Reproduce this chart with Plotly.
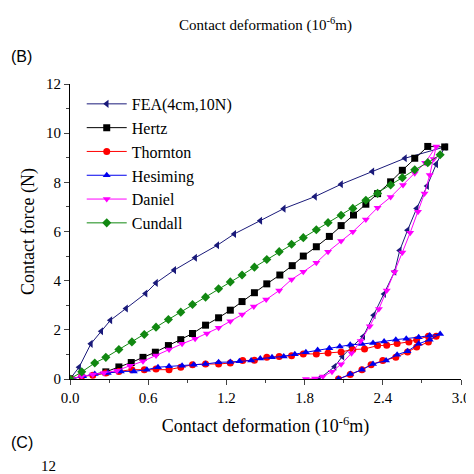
import plotly.graph_objects as go

fea_x = [0, 0.07, 0.16, 0.24, 0.31, 0.43, 0.58, 0.66, 0.80, 0.96, 1.13, 1.26, 1.46, 1.64, 1.88, 2.08, 2.32, 2.57, 2.875,
         2.81, 2.74, 2.66, 2.59, 2.53, 2.49, 2.41, 2.33, 2.25, 2.16, 2.09, 2.03, 1.91]
fea_y = [0, 0.48, 1.43, 1.94, 2.39, 2.87, 3.48, 3.91, 4.43, 4.93, 5.44, 5.90, 6.44, 6.93, 7.42, 7.92, 8.44, 8.98, 9.44,
         8.74, 7.85, 6.94, 6.05, 5.23, 4.36, 3.46, 2.59, 1.73, 1.30, 0.92, 0.50, 0]

hertz_x = [0, 0.275, 0.375, 0.47, 0.56, 0.655, 0.755, 0.85, 0.94, 1.04, 1.14, 1.23, 1.32, 1.415, 1.51, 1.61, 1.705,
           1.79, 1.89, 1.99, 2.08, 2.175, 2.27, 2.36, 2.46, 2.55, 2.645, 2.745, 2.875]
hertz_y = [0, 0.29, 0.49, 0.67, 0.88, 1.09, 1.36, 1.60, 1.85, 2.19, 2.49, 2.80, 3.15, 3.51, 3.87, 4.23, 4.61,
           5.00, 5.38, 5.80, 6.24, 6.67, 7.11, 7.54, 8.02, 8.49, 8.98, 9.46, 9.44]

thornton_x = [0, 0.09, 0.175, 0.275, 0.375, 0.475, 0.57, 0.66, 0.76, 0.85, 0.94, 1.04, 1.14, 1.23, 1.325, 1.415,
              1.51, 1.605, 1.70, 1.79, 1.89, 1.98, 2.08, 2.17, 2.26, 2.36, 2.43, 2.51, 2.60, 2.66, 2.75, 2.81,
              2.75, 2.66, 2.59, 2.50, 2.40, 2.31, 2.24, 2.15, 2.06]
thornton_y = [0, 0.11, 0.15, 0.24, 0.31, 0.38, 0.38, 0.41, 0.38, 0.48, 0.58, 0.61, 0.61, 0.65, 0.75, 0.76,
              0.88, 0.92, 0.95, 1.02, 1.02, 1.06, 1.10, 1.20, 1.22, 1.36, 1.37, 1.44, 1.51, 1.60, 1.74, 1.74,
              1.51, 1.30, 1.10, 0.88, 0.75, 0.58, 0.38, 0.18, 0]

hesiming_x = [0, 0.10, 0.19, 0.29, 0.39, 0.49, 0.59, 0.675, 0.76, 0.86, 0.95, 1.04, 1.14, 1.23, 1.30, 1.39, 1.46,
              1.55, 1.64, 1.725, 1.81, 1.90, 1.99, 2.07, 2.15, 2.24, 2.325, 2.41, 2.50, 2.58, 2.675, 2.76, 2.84,
              2.76, 2.675, 2.59, 2.51, 2.425, 2.325, 2.24, 2.15, 2.06]
hesiming_y = [0, 0.11, 0.20, 0.24, 0.31, 0.31, 0.38, 0.48, 0.52, 0.54, 0.58, 0.61, 0.68, 0.69, 0.72, 0.75, 0.83,
              0.88, 0.92, 1.01, 1.09, 1.18, 1.25, 1.32, 1.39, 1.42, 1.46, 1.53, 1.60, 1.64, 1.70, 1.77, 1.83,
              1.60, 1.43, 1.13, 0.99, 0.75, 0.61, 0.38, 0.20, 0]

daniel_x = [0, 0.09, 0.175, 0.26, 0.36, 0.46, 0.56, 0.66, 0.76, 0.86, 0.96, 1.05, 1.14, 1.23, 1.32, 1.41, 1.505,
            1.605, 1.70, 1.79, 1.89, 1.98, 2.08, 2.17, 2.27, 2.36, 2.46, 2.555, 2.645, 2.725, 2.81,
            2.79, 2.76, 2.72, 2.67, 2.61, 2.55, 2.49, 2.43, 2.37, 2.30, 2.23, 2.16, 2.08, 2.01, 1.94, 1.88, 1.81]
daniel_y = [0, 0.11, 0.18, 0.24, 0.34, 0.54, 0.72, 0.96, 1.20, 1.43, 1.64, 1.85, 2.08, 2.35, 2.62, 2.95, 3.23,
            3.60, 4.05, 4.36, 4.73, 5.18, 5.61, 5.99, 6.49, 6.97, 7.40, 7.89, 8.37, 8.80, 9.46,
            8.95, 8.30, 7.55, 6.80, 5.95, 5.15, 4.35, 3.60, 2.85, 2.15, 1.55, 1.05, 0.60, 0.30, 0.10, 0.02, 0]

cundall_x = [0, 0.09, 0.19, 0.275, 0.375, 0.475, 0.57, 0.66, 0.755, 0.85, 0.94, 1.04, 1.14, 1.23, 1.32, 1.415,
             1.51, 1.605, 1.70, 1.79, 1.89, 1.98, 2.08, 2.17, 2.27, 2.36, 2.46, 2.55, 2.645, 2.745, 2.84]
cundall_y = [0, 0.29, 0.65, 0.88, 1.20, 1.51, 1.81, 2.11, 2.42, 2.72, 3.03, 3.33, 3.67, 3.95, 4.23, 4.55,
             4.86, 5.18, 5.48, 5.75, 6.07, 6.36, 6.66, 6.94, 7.27, 7.55, 7.89, 8.19, 8.51, 8.80, 9.12]

series = [
    ("FEA(4cm,10N)", fea_x, fea_y, "#1a1a7a", "triangle-left"),
    ("Hertz", hertz_x, hertz_y, "black", "square"),
    ("Thornton", thornton_x, thornton_y, "red", "circle"),
    ("Hesiming", hesiming_x, hesiming_y, "#0000ee", "triangle-up"),
    ("Daniel", daniel_x, daniel_y, "#ff00ff", "triangle-down"),
    ("Cundall", cundall_x, cundall_y, "#118811", "diamond"),
]

fig = go.Figure()
for name, xs, ys, col, sym in series:
    fig.add_trace(go.Scatter(x=xs, y=ys, name=name, mode="lines+markers",
                             line=dict(color=col, width=1),
                             marker=dict(symbol=sym, size=7, color=col)))

font = "Liberation Serif"
fig.update_layout(
    width=474, height=474, margin=dict(l=62, r=12, t=76, b=103),
    plot_bgcolor="white", paper_bgcolor="white",
    font=dict(family=font, size=15, color="black"),
    legend=dict(x=0.03, y=0.99, bgcolor="rgba(0,0,0,0)", font=dict(size=16), tracegroupgap=0,
                itemwidth=40),
    annotations=[
        dict(text="Contact deformation (10<sup>-6</sup>m)", x=0.5, y=1.24, xref="paper", yref="paper",
             showarrow=False, font=dict(size=15)),
        dict(text="(B)", x=-0.155, y=1.13, xref="paper", yref="paper", showarrow=False, xanchor="left",
             font=dict(family="Liberation Sans", size=16)),
        dict(text="(C)", x=-0.155, y=-0.25, xref="paper", yref="paper", showarrow=False, xanchor="left",
             font=dict(family="Liberation Sans", size=16)),
        dict(text="12", x=-0.03, y=-0.33, xref="paper", yref="paper", showarrow=False, xanchor="right",
             font=dict(size=15)),
    ],
)
fig.update_xaxes(range=[0, 3.0], tickvals=[0, 0.6, 1.2, 1.8, 2.4, 3.0],
                 ticktext=["0.0", "0.6", "1.2", "1.8", "2.4", "3.0"],
                 showline=True, linecolor="black", ticks="outside", showgrid=False, zeroline=False,
                 minor=dict(ticks="outside", dtick=0.3, ticklen=3),
                 title=dict(text="Contact deformation (10<sup>-6</sup>m)", standoff=14))
fig.update_yaxes(range=[0, 12], dtick=2, showline=True, linecolor="black", ticks="outside",
                 showgrid=False, zeroline=False, minor=dict(ticks="outside", dtick=1, ticklen=3),
                 title=dict(text="Contact force (N)", standoff=6))
fig.write_html("out.html")
